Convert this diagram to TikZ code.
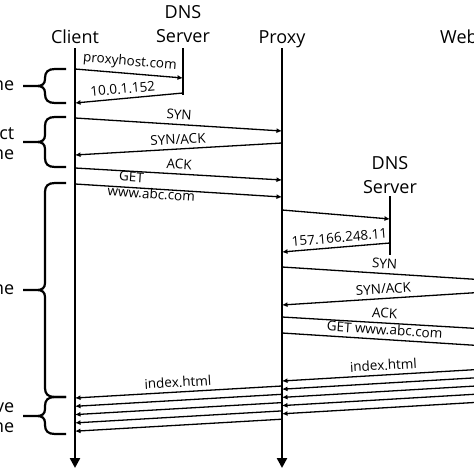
\documentclass[tikz,border=0pt]{standalone}
\usepackage{fontspec}
\setmainfont{Open Sans}
\usetikzlibrary{arrows.meta}
\begin{document}
\begin{tikzpicture}[x=1pt,y=-1pt]
\tikzstyle{head}=[inner sep=0pt,anchor=base,align=center,font=\fontsize{18}{23.5}\selectfont]
\tikzstyle{side}=[inner sep=0pt,anchor=east,align=right,font=\fontsize{18}{20}\selectfont]
\tikzstyle{life}=[line width=2.4pt]
\tikzstyle{msg}=[line width=1.3pt,-{Latex[length=5.5pt,width=5pt]}]
\tikzstyle{lbl}=[sloped,above=2.5pt,inner sep=1.5pt,font=\fontsize{13.5}{15}\selectfont]
\tikzstyle{brc}=[line width=2.2pt]
\useasboundingbox[fill=white] (0,0) rectangle (474,474);
% actors
\node [head] (client) at (75,43) {Client};
\node [head] (dnsa) at (183,42) {DNS\\Server};
\node [head] (proxy) at (282,43) {Proxy};
\node [head] (dnsb) at (390,193) {DNS\\Server};
\node [head,anchor=base west] (web) at (440,43) {Web};
\coordinate (webl) at (486,0);
% lifelines
\draw [life,-{Triangle[length=10pt,width=10pt]}] (client |- 0,48) -- (client |- 0,468);
\draw [life,-{Triangle[length=10pt,width=10pt]}] (proxy |- 0,48) -- (proxy |- 0,468);
\draw [life] (dnsa |- 0,48) -- (dnsa |- 0,95);
\draw [life] (dnsb |- 0,196) -- (dnsb |- 0,255);
% messages
\draw [msg] (client |- 0,69) -- node [lbl] {proxyhost.com} (dnsa |- 0,78);
\draw [msg] (dnsa |- 0,93) -- node [lbl,pos=.55] {10.0.1.152} (client |- 0,103);
\draw [msg] (client |- 0,118) -- node [lbl] {SYN} (proxy |- 0,131);
\draw [msg] (proxy |- 0,143) -- node [lbl] {SYN/ACK} (client |- 0,155);
\draw [msg] (client |- 0,168) -- node [lbl] {ACK} (proxy |- 0,180);
\draw [msg] (client |- 0,184) -- node [lbl,above=1pt,pos=.27] {GET} node [lbl,below=0pt,pos=.37] {www.abc.com} (proxy |- 0,197);
\draw [msg] (proxy |- 0,210) -- (dnsb |- 0,219);
\draw [msg] (dnsb |- 0,243) -- node [lbl,pos=.46] {157.166.248.11} (proxy |- 0,252);
\draw [msg] (proxy |- 0,267) -- node [lbl] {SYN} (webl |- 0,280);
\draw [msg] (webl |- 0,292) -- node [lbl] {SYN/ACK} (proxy |- 0,305);
\draw [msg] (proxy |- 0,317) -- node [lbl] {ACK} (webl |- 0,329);
\draw [msg] (proxy |- 0,333) -- node [lbl] {GET www.abc.com} (webl |- 0,346);
\draw [msg] (webl |- 0,369) -- node [lbl] {index.html} (proxy |- 0,381);
\draw [msg] (proxy |- 0,386) -- node [lbl] {index.html} (client |- 0,398);
\foreach \i in {1,...,4} {
  \draw [msg] (webl |- 0,{369+8.2*\i}) -- (proxy |- 0,{381+8.2*\i});
  \draw [msg] (proxy |- 0,{386+8.3*\i}) -- (client |- 0,{398+8.3*\i});
}
% time braces
\foreach \t/\m/\b in {69/86/103,117/142/167,183/290/397,397/416/434}
  \draw [brc] (66,\t) -- (55,\t) .. controls (48,\t) and (45,{\t+3}) .. (45,{\t+9})
    -- (45,{\m-7}) .. controls (45,{\m-2}) and (42,\m) .. (37,\m) -- (23,\m)
    (37,\m) .. controls (42,\m) and (45,{\m+2}) .. (45,{\m+7})
    -- (45,{\b-9}) .. controls (45,{\b-3}) and (48,\b) .. (55,\b) -- (66,\b);
\node [side] (dnstime) at (14.5,86) {me};
\node [side] (conntime) at (14.5,144) {ct\\me};
\node [side] (reqtime) at (14.5,290) {me};
\node [side] (recvtime) at (14.5,418) {ve\\me};
\end{tikzpicture}
\end{document}
